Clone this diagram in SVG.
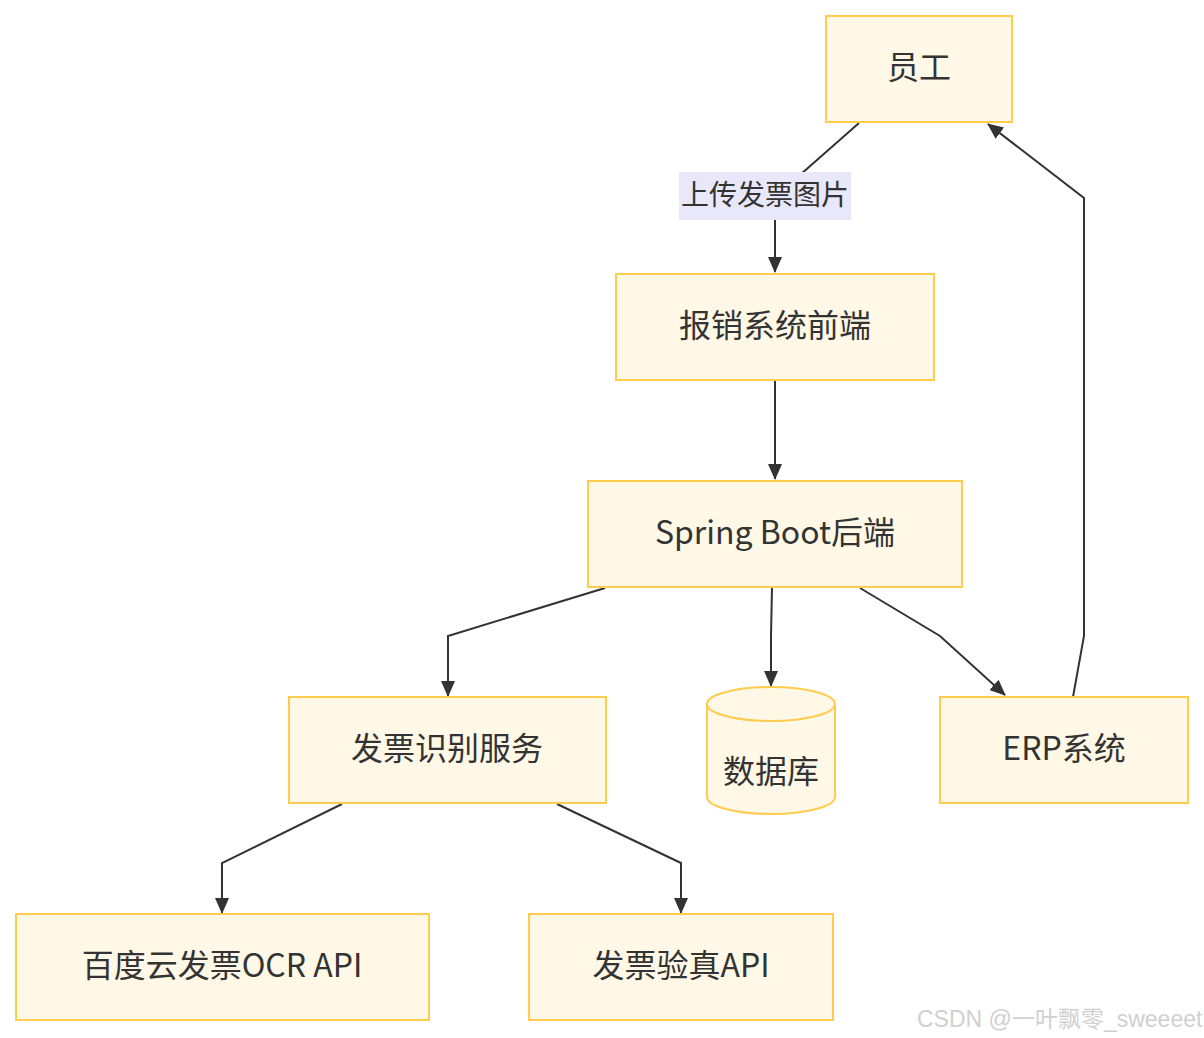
<svg xmlns="http://www.w3.org/2000/svg" width="1204" height="1038" viewBox="0 0 1204 1038">
<style>
.n{fill:#FFF8E6;stroke:#FFCC4D;stroke-width:2}
.t{font-family:"Noto Sans CJK SC","Noto Sans",sans-serif;font-size:32px;fill:#333;text-anchor:middle;dominant-baseline:central}
.e{fill:none;stroke:#333;stroke-width:2}
.lb{fill:#E8E8FA}
.lt{font-family:"Noto Sans CJK SC","Noto Sans",sans-serif;font-size:28px;fill:#333;text-anchor:middle;dominant-baseline:central}
.wm{font-family:"Liberation Sans","Noto Sans CJK SC",sans-serif;font-size:23px;fill:#d0d0d0}
</style>
<defs>
<marker id="ah" viewBox="0 0 16 14" refX="15" refY="7" markerWidth="16" markerHeight="14" markerUnits="userSpaceOnUse" orient="auto">
<path d="M0,0 L16,7 L0,14 Z" fill="#333"/>
</marker>
</defs>
<rect width="1204" height="1038" fill="#fff"/>
<g id="connectors">
<path class="e" d="M859,123 L775,197 L775,272" marker-end="url(#ah)"/>
<path class="e" d="M775,380 L775,479" marker-end="url(#ah)"/>
<path class="e" d="M605,588 L448,636 L448,696" marker-end="url(#ah)"/>
<path class="e" d="M772,588 L771,636 L771,686" marker-end="url(#ah)"/>
<path class="e" d="M860,588 L940,636 L1005,695" marker-end="url(#ah)"/>
<path class="e" d="M1073,697 L1084,636 L1084,198 L988,124" marker-end="url(#ah)"/>
<path class="e" d="M342,804 L222,863 L222,913" marker-end="url(#ah)"/>
<path class="e" d="M557,804 L681,863 L681,913" marker-end="url(#ah)"/>
<rect class="lb" x="679" y="172" width="172" height="48"/>
<text class="lt" x="765" y="193">上传发票图片</text>
</g>
<g id="yuangong"><rect class="n" x="826" y="16" width="186" height="106"/><text class="t" x="919" y="65">员工</text></g>
<g id="qianduan"><rect class="n" x="616" y="274" width="318" height="106"/><text class="t" x="775" y="323">报销系统前端</text></g>
<g id="houduan"><rect class="n" x="588" y="481" width="374" height="106"/><text class="t" x="775" y="530">Spring Boot后端</text></g>
<g id="shibie"><rect class="n" x="289" y="697" width="317" height="106"/><text class="t" x="447" y="746">发票识别服务</text></g>
<g id="shujuku"><path class="n" d="M707,704 A64,17 0 0 1 835,704 L835,797 A64,17 0 0 1 707,797 Z"/><path class="n" d="M707,704 A64,17 0 0 0 835,704" fill="none"/><text class="t" x="771" y="769">数据库</text></g>
<g id="erp"><rect class="n" x="940" y="697" width="248" height="106"/><text class="t" x="1064" y="746">ERP系统</text></g>
<g id="ocr"><rect class="n" x="16" y="914" width="413" height="106"/><text class="t" x="222" y="963">百度云发票OCR API</text></g>
<g id="yanzhen"><rect class="n" x="529" y="914" width="304" height="106"/><text class="t" x="681" y="963">发票验真API</text></g>
<text class="wm" x="917" y="1027">CSDN @一叶飘零_sweeeet</text>
</svg>
